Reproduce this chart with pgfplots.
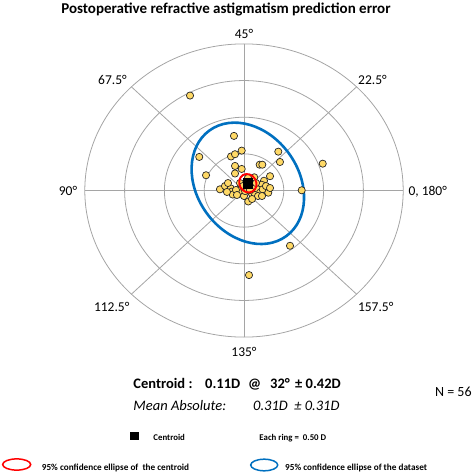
\documentclass[border=0pt]{standalone}
\usepackage{pgfplots}
\pgfplotsset{compat=1.18}
\usepackage{fontspec}
\setmainfont{Carlito}

\definecolor{ringgray}{RGB}{165,165,165}
\definecolor{ptfill}{RGB}{255,217,102}
\definecolor{ellblue}{RGB}{0,112,192}

\newcommand{\fs}[1]{\fontsize{#1}{#1}\selectfont}

\begin{document}
\begin{tikzpicture}[every node/.style={inner sep=0pt}]
\useasboundingbox (-244bp,-283.5bp) rectangle (230bp,190.5bp);
\begin{axis}[
    at={(0,0)}, anchor=center,
    hide axis, clip=false,
    x=79.6bp, y=73.3bp,
    xmin=-2, xmax=2, ymin=-2, ymax=2,
  ]
  % rings, each 0.50 D
  \draw[ringgray, line width=0.8bp] (axis cs:0,0) circle [radius=0.5];
  \draw[ringgray, line width=0.8bp] (axis cs:0,0) circle [radius=1.0];
  \draw[ringgray, line width=0.8bp] (axis cs:0,0) circle [radius=1.5];
  \draw[ringgray, line width=0.8bp] (axis cs:0,0) circle [radius=2.0];
  % spokes
  \draw[ringgray, line width=0.8bp] (axis cs:-2,0) -- (axis cs:2,0);
  \draw[ringgray, line width=0.8bp] (axis cs:0,-2) -- (axis cs:0,2);
  \draw[ringgray, line width=0.8bp] (axis cs:-1.4142,-1.4142) -- (axis cs:1.4142,1.4142);
  \draw[ringgray, line width=0.8bp] (axis cs:-1.4142,1.4142) -- (axis cs:1.4142,-1.4142);

  % 95% confidence ellipse of the dataset
  \draw[ellblue, line width=2.6bp, rotate around={-54:(axis cs:0.048,0.098)}]
    (axis cs:0.048,0.098) ellipse [x radius=65.3bp, y radius=50.8bp];

  % individual eyes (double-angle vectors, D)
  \addplot[only marks, mark=*, mark size=3.6bp,
           mark options={fill=ptfill, draw=black!85, line width=0.7bp}]
    coordinates {
      (-0.678,1.295) (-0.126,0.745) (-0.562,0.458) (-0.163,0.464)
      (-0.113,0.495) (-0.029,0.544) (0.431,0.530) (0.452,0.389)
      (0.989,0.366) (0.197,0.352) (0.230,0.352) (-0.113,0.335)
      (-0.029,0.294) (-0.477,0.208) (-0.113,0.232) (0.327,0.195)
      (0.251,0.133) (0.222,0.079) (0.129,0.180) (-0.302,0.016)
      (-0.239,0.061) (-0.167,0.030) (-0.155,-0.016) (-0.142,-0.055)
      (-0.050,0.016) (-0.041,-0.038) (0.097,-0.038) (0.172,0.016)
      (0.201,-0.030) (0.235,0.016) (0.305,-0.030) (0.054,-0.150)
      (0.725,0.003) (0.578,-0.754) (0.063,-1.154)
      (-0.050,0.102) (0.000,-0.075) (0.138,-0.061) (-0.201,0.102)
      (0.050,0.171) (0.113,0.061) (-0.101,0.007) (0.013,-0.007)
      (0.176,-0.075) (-0.013,0.061) (0.075,0.007) (-0.088,-0.061)
      (-0.214,-0.020) (0.276,0.061) (0.101,-0.116) (0.151,0.102)
      (0.226,-0.075) (0.327,0.034)
    };

  % centroid
  \addplot[only marks, mark=square*, mark size=4.6bp, black]
    coordinates {(0.048,0.099)};
  \coordinate (cen) at (axis cs:0.048,0.099);
\end{axis}

% 95% confidence ellipse of the centroid, on top of the marks
\draw[red, line width=1.9bp, rotate around={-60:(cen)}]
  (cen) ellipse [x radius=9.5bp, y radius=8.4bp];

% title
\node[anchor=base] at (-18bp,176.5bp) {\fs{15bp}\bfseries Postoperative refractive astigmatism prediction error};

% angle labels
\begin{scope}[every node/.append style={font=\fs{13.5bp}}]
  \node[anchor=base] at (0bp,152.2bp) {45°};
  \node[anchor=base] at (128.5bp,105.5bp) {22.5°};
  \node[anchor=base] at (-131.5bp,105.5bp) {67.5°};
  \node[anchor=base] at (-176bp,-4.5bp) {90°};
  \node[anchor=base west] at (164.3bp,-4.5bp) {0, 180°};
  \node[anchor=base] at (-132.3bp,-121bp) {112.5°};
  \node[anchor=base] at (131.7bp,-121bp) {157.5°};
  \node[anchor=base] at (0bp,-166bp) {135°};
\end{scope}

% summary
\begin{scope}[every node/.append style={anchor=base west, font=\fs{14.5bp}\bfseries}]
  \node at (-110.7bp,-197.8bp) {Centroid :};
  \node at (-39bp,-197.8bp) {0.11D};
  \node at (4bp,-197.8bp) {@};
  \node at (26bp,-197.8bp) {32°};
  \node at (51bp,-197.8bp) {± 0.42D};
\end{scope}
\node[anchor=base west] at (-110.7bp,-219.5bp) {\fs{14.5bp}\itshape Mean Absolute:};
\node[anchor=base west] at (9bp,-219.5bp) {\fs{14.5bp}\itshape 0.31D\ \ ± 0.31D};
\node[anchor=base west] at (187.7bp,-206bp) {\fs{14bp} N = 56};

% key
\fill[black] (-114bp,-249.5bp) rectangle (-104.6bp,-241.2bp);
\node[anchor=base west] at (-90.7bp,-249.5bp) {\fs{8.8bp}\bfseries Centroid};
\node[anchor=base west] at (15.3bp,-249.5bp) {\fs{8.8bp}\bfseries Each ring =\ \ 0.50 D};
\draw[red, line width=1.5bp] (-227.3bp,-274bp) ellipse [x radius=14bp, y radius=5.6bp];
\node[anchor=base west] at (-202.3bp,-279.5bp) {\fs{9.2bp}\bfseries 95\% confidence ellipse of\ \ the centroid};
\draw[ellblue, line width=1.5bp] (20.2bp,-274.5bp) ellipse [x radius=13.5bp, y radius=5.8bp];
\node[anchor=base west] at (41bp,-279.5bp) {\fs{9.2bp}\bfseries 95\% confidence ellipse of the dataset};
\end{tikzpicture}
\end{document}
